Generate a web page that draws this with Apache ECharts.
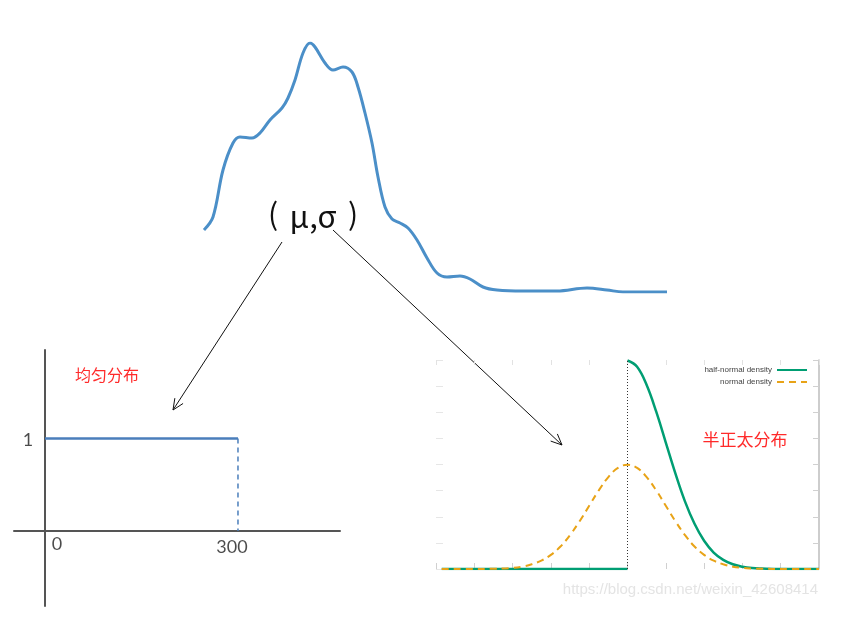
<!DOCTYPE html>
<html><head><meta charset="utf-8">
<script src="https://cdn.jsdelivr.net/npm/echarts@6/dist/echarts.min.js"></script>
<style>html,body{margin:0;padding:0;background:#fff}#c{width:849px;height:624px}</style>
</head><body><div id="c"></div>
<script>
const topX = [0, 9, 19, 29, 36, 48, 56, 66, 78, 84, 91, 99, 106, 111, 121, 129, 139, 148, 154, 161, 168, 174, 181, 188, 196, 204, 213, 223, 233, 243, 256, 266, 279, 293, 319, 353, 383, 403, 419, 463];
const topY = [62, 75, 122, 149, 155, 154, 159, 172, 184, 194, 212, 239, 249, 245, 229, 222, 225, 220, 205, 179, 149, 115, 85, 73, 69, 64, 52, 34, 19, 15, 16, 13, 5, 2, 1, 1, 4, 2, 0, 0];

// Bottom-left: uniform distribution
const uniX = [0, 300];
const uniY = [1, 1];
const uniTickX = [0, 300];
const uniTickY = [1];

// Bottom-right: normal vs half-normal density
const normX = [-4.85, -4, -3.5, -3.25, -3, -2.75, -2.5, -2.25, -2, -1.75, -1.5, -1.25, -1, -0.75, -0.5, -0.25, 0, 0.25, 0.5, 0.75, 1, 1.25, 1.5, 1.75, 2, 2.25, 2.5, 2.75, 3, 3.25, 3.5, 4, 5];
const normY = [0, 0, 0.001, 0.002, 0.004, 0.009, 0.018, 0.032, 0.054, 0.086, 0.130, 0.183, 0.242, 0.301, 0.352, 0.387, 0.399, 0.387, 0.352, 0.301, 0.242, 0.183, 0.130, 0.086, 0.054, 0.032, 0.018, 0.009, 0.004, 0.002, 0.001, 0, 0];
const halfX = [-4.85, 0, null, 0, 0.25, 0.5, 0.75, 1, 1.25, 1.5, 1.75, 2, 2.25, 2.5, 2.75, 3, 3.25, 3.5, 4, 5];
const halfY = [0, 0, null, 0.798, 0.774, 0.704, 0.602, 0.484, 0.366, 0.259, 0.173, 0.108, 0.063, 0.035, 0.018, 0.009, 0.004, 0.002, 0, 0];
const hnTicksX = [-5, 5, 1];
const hnTicksY = [0, 0.8, 0.1];
const legendNames = ['half-normal density', 'normal density'];

const zip = (xs, ys) => xs.map((x, i) => (x === null ? ['-', '-'] : [x, ys[i]]));

function arrow(x1, y1, x2, y2) {
  const a = Math.atan2(y2 - y1, x2 - x1), L = 12, s = 0.42;
  return [
    {type: 'line', shape: {x1, y1, x2, y2}, style: {stroke: '#111', lineWidth: 1}},
    {type: 'polyline', shape: {points: [
      [x2 - L * Math.cos(a - s), y2 - L * Math.sin(a - s)], [x2, y2],
      [x2 - L * Math.cos(a + s), y2 - L * Math.sin(a + s)]]},
      style: {stroke: '#111', lineWidth: 1, fill: 'none'}}
  ];
}

const chart = echarts.init(document.getElementById('c'));
const hide = {show: false};
const tickGray = (len, col) => ({show: true, inside: true, length: len, lineStyle: {color: col, width: 1}});

chart.setOption({
  animation: false,
  backgroundColor: '#fff',
  grid: [
    {left: 204, width: 463, top: 43, height: 249},
    {left: 14, right: 509, top: 350, bottom: 18},
    {left: 436, right: 30, top: 360, bottom: 55}
  ],
  xAxis: [
    {gridIndex: 0, type: 'value', min: 0, max: 463, show: false},
    {gridIndex: 1, type: 'value', min: -48.2, max: 458.6,
      axisLine: {onZero: true, lineStyle: {color: '#555', width: 2}},
      axisTick: hide, axisLabel: hide, splitLine: hide},
    {gridIndex: 2, type: 'value', min: hnTicksX[0], max: hnTicksX[1], interval: hnTicksX[2], position: 'bottom',
      axisLine: {show: false, onZero: false}, axisTick: tickGray(6, '#d0d0d0'), axisLabel: hide, splitLine: hide},
    {gridIndex: 2, type: 'value', min: hnTicksX[0], max: hnTicksX[1], interval: hnTicksX[2], position: 'top',
      axisLine: {show: false, onZero: false}, axisTick: tickGray(5, '#e2e2e2'), axisLabel: hide, splitLine: hide}
  ],
  yAxis: [
    {gridIndex: 0, type: 'value', min: 0, max: 249, show: false},
    {gridIndex: 1, type: 'value', min: -0.811, max: 1.957,
      axisLine: {onZero: true, lineStyle: {color: '#555', width: 2}},
      axisTick: hide, axisLabel: hide, splitLine: hide},
    {gridIndex: 2, type: 'value', min: hnTicksY[0], max: hnTicksY[1], interval: hnTicksY[2], position: 'right',
      axisLine: {show: true, onZero: false, lineStyle: {color: '#bdbdbd', width: 1.5}},
      axisTick: tickGray(6, '#d0d0d0'), axisLabel: hide, splitLine: hide},
    {gridIndex: 2, type: 'value', min: hnTicksY[0], max: hnTicksY[1], interval: hnTicksY[2], position: 'left',
      axisLine: {show: false, onZero: false}, axisTick: tickGray(7, '#e6e6e6'), axisLabel: hide, splitLine: hide}
  ],
  legend: {
    data: legendNames, orient: 'vertical', right: 41, top: 366, align: 'right',
    itemWidth: 30, itemHeight: 9, itemGap: 4, padding: 0,
    itemStyle: {opacity: 0},
    textStyle: {fontSize: 8, color: '#444', fontFamily: 'Liberation Sans'}
  },
  series: [
    {type: 'line', xAxisIndex: 0, yAxisIndex: 0, data: zip(topX, topY), smooth: 0.35,
      symbol: 'none', lineStyle: {color: '#4b8fc8', width: 3}},
    {type: 'line', xAxisIndex: 1, yAxisIndex: 1, data: zip(uniX, uniY), symbol: 'none',
      lineStyle: {color: '#4a7ebb', width: 2.5}},
    {type: 'line', xAxisIndex: 1, yAxisIndex: 1, data: [[uniX[1], uniY[1]], [uniX[1], 0]], symbol: 'none',
      lineStyle: {color: '#4a7ebb', width: 1.5, type: [5, 4]}},
    {type: 'scatter', xAxisIndex: 1, yAxisIndex: 1, symbolSize: 0, silent: true,
      data: [
        {value: [0, uniTickY[0]], label: {formatter: String(uniTickY[0]), offset: [-17, 2]}},
        {value: [uniTickX[0], 0], label: {formatter: String(uniTickX[0]), offset: [12, 13]}},
        {value: [uniTickX[1], 0], label: {formatter: String(uniTickX[1]), offset: [-6, 16]}}
      ],
      label: {show: true, position: 'inside', fontSize: 18, color: '#1e1e1e', fontFamily: 'Lato'}},
    {name: legendNames[0], type: 'line', xAxisIndex: 2, yAxisIndex: 2, data: zip(halfX, halfY),
      symbol: 'none', smooth: 0.4, connectNulls: false, z: 3, lineStyle: {color: '#009e73', width: 2.5}, itemStyle: {color: '#009e73'}},
    {name: legendNames[1], type: 'line', xAxisIndex: 2, yAxisIndex: 2, data: zip(normX, normY),
      symbol: 'none', smooth: 0.4, z: 4, lineStyle: {color: '#e8a317', width: 2, type: [7, 5]}, itemStyle: {color: '#e8a317'},
      markLine: {silent: true, symbol: 'none', label: {show: false},
        lineStyle: {color: '#333', width: 1, type: [1, 2]}, data: [{xAxis: 0}]}}
  ],
  graphic: [
    {type: 'text', style: {x: 273, y: 214, text: '(', font: '30px "Noto Sans CJK SC"', fill: '#111', align: 'center', verticalAlign: 'middle'}},
    {type: 'text', style: {x: 313, y: 216, text: 'μ,σ', font: '31px "Noto Sans CJK SC"', fill: '#111', align: 'center', verticalAlign: 'middle'}},
    {type: 'text', style: {x: 353, y: 214, text: ')', font: '30px "Noto Sans CJK SC"', fill: '#111', align: 'center', verticalAlign: 'middle'}},
    {type: 'text', style: {x: 107, y: 375, text: '均匀分布', font: '16px "Noto Sans CJK SC"', fill: '#ff2a2a', align: 'center', verticalAlign: 'middle'}},
    {type: 'text', style: {x: 745, y: 440, text: '半正太分布', font: '17px "Noto Sans CJK SC"', fill: '#ff2a2a', align: 'center', verticalAlign: 'middle'}},
    {type: 'text', style: {x: 818, y: 590, text: 'https://blog.csdn.net/weixin_42608414', font: '15px "Liberation Sans"', fill: '#e4e4e4', align: 'right', verticalAlign: 'middle'}},
    ...arrow(282, 242, 173, 410),
    ...arrow(333, 230, 562, 445)
  ]
});
</script></body></html>
